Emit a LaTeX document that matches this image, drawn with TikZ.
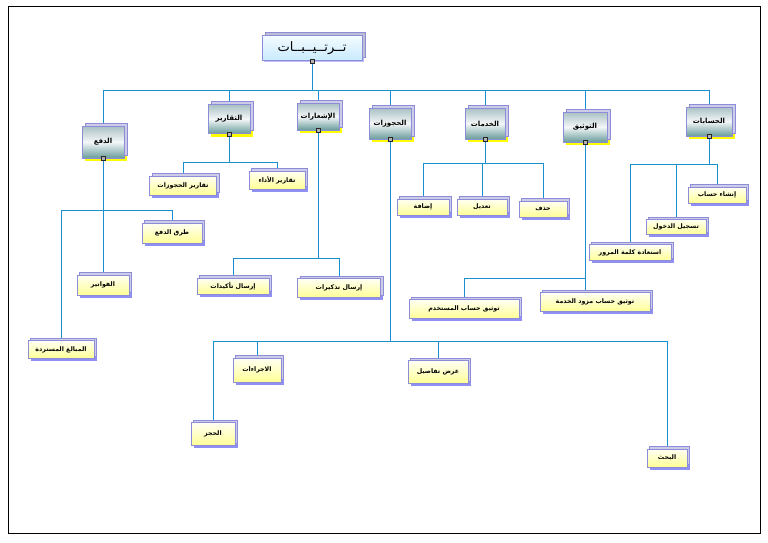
\documentclass[tikz,border=0pt]{standalone}
\usepackage{fontspec}
\newfontfamily\arabicfont[Script=Arabic,BoldFont={DejaVu Sans Bold}]{DejaVu Sans}
\TeXXeTstate=1
\usetikzlibrary{shadows,backgrounds}
\definecolor{connc}{HTML}{1A8FD0}
\definecolor{edgec}{HTML}{8C8CD8}
\definecolor{bevelc}{HTML}{CCCCE8}
\definecolor{leafshad}{HTML}{9090F4}
\definecolor{lvlshad}{HTML}{FFFF00}
\definecolor{lvltop}{HTML}{A9C0C4}
\definecolor{lvlmid}{HTML}{F4F7F8}
\definecolor{lvlbot}{HTML}{6A9C9C}
\definecolor{leaftop}{HTML}{FFFFF4}
\definecolor{leafbot}{HTML}{FFFF96}
\definecolor{roottop}{HTML}{F4FBFF}
\definecolor{rootbot}{HTML}{C8EAFF}
\newcommand{\artxt}[1]{{\arabicfont\bfseries\beginR #1\endR}}
\begin{document}
\begin{tikzpicture}[x=1pt,y=-1pt,
  cl/.style={draw=connc, line width=0.8pt},
  lvl/.style={draw=edgec, line width=0.6pt, inner sep=0pt,
    minimum width=42pt, minimum height=29pt,
    top color=lvltop, bottom color=lvlbot, middle color=lvlmid,
    general shadow={fill=lvlshad, shadow xshift=3pt, shadow yshift=-3pt},
    general shadow={fill=bevelc, draw=edgec, line width=0.6pt, shadow xshift=3pt, shadow yshift=3pt},
    font=\fontsize{7}{8}\selectfont},
  leaf/.style={draw=edgec, line width=0.6pt, inner sep=0pt,
    minimum height=18pt,
    top color=leaftop, bottom color=leafbot,
    general shadow={fill=leafshad, shadow xshift=2.5pt, shadow yshift=-2.5pt},
    general shadow={fill=bevelc, draw=edgec, line width=0.5pt, shadow xshift=2.5pt, shadow yshift=2.5pt},
    font=\fontsize{6.3}{7}\selectfont},
  rootbox/.style={draw=edgec, line width=0.6pt, inner sep=0pt,
    minimum width=100pt, minimum height=25pt,
    top color=roottop, bottom color=rootbot,
    general shadow={fill=leafshad!60, shadow xshift=2pt, shadow yshift=-2pt},
    general shadow={fill=bevelc!80!gray, draw=edgec, line width=0.6pt, shadow xshift=3pt, shadow yshift=3pt},
    font=\fontsize{13}{14}\selectfont},
  knob/.style={draw=black!85, fill=black!30, line width=0.5pt, minimum size=4pt, inner sep=0pt}
]
\useasboundingbox (0,0) rectangle (768,543);
\draw[black, line width=0.6pt] (8,6) rectangle (760,533);

% root
\node[rootbox] (root) at (312,48) {{\arabicfont\beginR تــرتــيــبــات\endR}};

% level 1
\node[lvl, minimum height=32pt] (pay) at (103,142) {\artxt{الدفع}};
\node[lvl] (rep) at (229,119) {\artxt{التقارير}};
\node[lvl, minimum height=27pt] (noti) at (318,116.5) {\artxt{الإشعارات}};
\node[lvl, minimum height=31pt] (res) at (390,123.5) {\artxt{الحجوزات}};
\node[lvl, minimum width=40pt, minimum height=31pt] (srv) at (485,123.5) {\artxt{الخدمات}};
\node[lvl, minimum width=44pt, minimum height=30pt] (auth) at (585,127) {\artxt{التوثيق}};
\node[lvl, minimum width=46pt] (acc) at (709,121.5) {\artxt{الحسابات}};

% leaves: reports
\node[leaf, minimum width=67pt, minimum height=19pt] (repRes) at (183,185.5) {\artxt{تقارير الحجوزات}};
\node[leaf, minimum width=56pt] (repPerf) at (277,180) {\artxt{تقارير الأداء}};
% leaves: payment
\node[leaf, minimum width=60pt, minimum height=20pt] (payMeth) at (172,233) {\artxt{طرق الدفع}};
\node[leaf, minimum width=52pt, minimum height=20pt] (payInv) at (103,285) {\artxt{الفواتير}};
\node[leaf, minimum width=66pt] (payRef) at (61,349.5) {\artxt{المبالغ المستردة}};
% leaves: notifications
\node[leaf, minimum width=72pt, minimum height=16pt] (notiConf) at (233,286) {\artxt{إرسال تأكيدات}};
\node[leaf, minimum width=83pt, minimum height=19pt] (notiRem) at (339,288) {\artxt{إرسال تذكيرات}};
% leaves: reservations
\node[leaf, minimum width=48pt, minimum height=24pt] (resProc) at (257,370) {\artxt{الاجراءات}};
\node[leaf, minimum width=60pt, minimum height=23pt] (resDet) at (438,372) {\artxt{عرض تفاصيل}};
\node[leaf, minimum width=44pt, minimum height=23pt] (resBook) at (213,434) {\artxt{الحجز}};
\node[leaf, minimum width=40pt] (resSearch) at (667,458) {\artxt{البحث}};
% leaves: services
\node[leaf, minimum width=52pt, minimum height=16pt] (srvAdd) at (423,207) {\artxt{إضافة}};
\node[leaf, minimum width=50pt, minimum height=16pt] (srvEdit) at (482,207) {\artxt{تعديل}};
\node[leaf, minimum width=48pt, minimum height=16pt] (srvDel) at (543,209) {\artxt{حذف}};
% leaves: authentication
\node[leaf, minimum width=110pt, minimum height=19pt] (authUser) at (464,309) {\artxt{توثيق حساب المستخدم}};
\node[leaf, minimum width=110pt, minimum height=19pt] (authProv) at (595,302) {\artxt{توثيق حساب مزود الخدمة}};
% leaves: accounts
\node[leaf, minimum width=58pt, minimum height=16pt] (accNew) at (717,195) {\artxt{إنشاء حساب}};
\node[leaf, minimum width=60pt, minimum height=15pt] (accLog) at (676,227) {\artxt{تسجيل الدخول}};
\node[leaf, minimum width=82pt, minimum height=16pt] (accRec) at (630,252.5) {\artxt{استعادة كلمة المرور}};

% knobs
\node[knob] (kRoot) at (root.south) {};
\node[knob] (kPay) at (pay.south) {};
\node[knob] (kRep) at (rep.south) {};
\node[knob] (kNoti) at (noti.south) {};
\node[knob] (kRes) at (res.south) {};
\node[knob] (kSrv) at (srv.south) {};
\node[knob] (kAuth) at (auth.south) {};
\node[knob] (kAcc) at (acc.south) {};

% branch levels
\coordinate (bus) at (0,90);
\coordinate (brRep) at (0,162);
\coordinate (brPay) at (0,210);
\coordinate (brNoti) at (0,258);
\coordinate (brRes) at (0,341);
\coordinate (brSrv) at (0,163);
\coordinate (brAuth) at (0,278);
\coordinate (brAcc) at (0,164);

\begin{scope}[on background layer]
% main bus
\draw[cl] (root.south) -- (root.south |- bus);
\draw[cl] (pay.north |- bus) -- (acc.north |- bus);
\foreach \n in {pay,rep,noti,res,srv,auth,acc}
  \draw[cl] (\n.north |- bus) -- (\n.north);
% reports
\draw[cl] (rep.south) -- (rep.south |- brRep);
\draw[cl] (repRes.north |- brRep) -- (repPerf.north |- brRep);
\draw[cl] (repRes.north |- brRep) -- (repRes.north);
\draw[cl] (repPerf.north |- brRep) -- (repPerf.north);
% payment
\draw[cl] (pay.south) -- (payInv.north);
\draw[cl] (payRef.north |- brPay) -- (payMeth.north |- brPay);
\draw[cl] (payRef.north |- brPay) -- (payRef.north);
\draw[cl] (payMeth.north |- brPay) -- (payMeth.north);
% notifications
\draw[cl] (noti.south) -- (noti.south |- brNoti);
\draw[cl] (notiConf.north |- brNoti) -- (notiRem.north |- brNoti);
\draw[cl] (notiConf.north |- brNoti) -- (notiConf.north);
\draw[cl] (notiRem.north |- brNoti) -- (notiRem.north);
% reservations
\draw[cl] (res.south) -- (res.south |- brRes);
\draw[cl] (resBook.north |- brRes) -- (resSearch.north |- brRes);
\foreach \n in {resBook,resProc,resDet,resSearch}
  \draw[cl] (\n.north |- brRes) -- (\n.north);
% services
\draw[cl] (srv.south) -- (srv.south |- brSrv);
\draw[cl] (srvAdd.north |- brSrv) -- (srvDel.north |- brSrv);
\foreach \n in {srvAdd,srvEdit,srvDel}
  \draw[cl] (\n.north |- brSrv) -- (\n.north);
% authentication
\draw[cl] (auth.south) -- (auth.south |- authProv.north);
\draw[cl] (authUser.north |- brAuth) -- (auth.south |- brAuth);
\draw[cl] (authUser.north |- brAuth) -- (authUser.north);
% accounts
\draw[cl] (acc.south) -- (acc.south |- brAcc);
\draw[cl] (accRec.north |- brAcc) -- (accNew.north |- brAcc);
\foreach \n in {accNew,accLog,accRec}
  \draw[cl] (\n.north |- brAcc) -- (\n.north);
\end{scope}
\end{tikzpicture}
\end{document}
